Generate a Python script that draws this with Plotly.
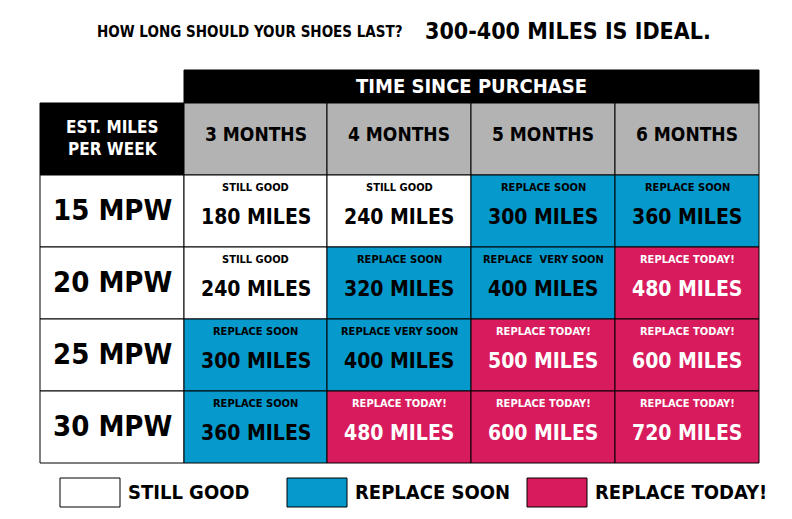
import plotly.graph_objects as go

months = ["3 MONTHS", "4 MONTHS", "5 MONTHS", "6 MONTHS"]
rows = ["15 MPW", "20 MPW", "25 MPW", "30 MPW"]
miles = [[180, 240, 300, 360],
         [240, 320, 400, 480],
         [300, 400, 500, 600],
         [360, 480, 600, 720]]
status = [["STILL GOOD", "STILL GOOD", "REPLACE SOON", "REPLACE SOON"],
          ["STILL GOOD", "REPLACE SOON", "REPLACE  VERY SOON", "REPLACE TODAY!"],
          ["REPLACE SOON", "REPLACE VERY SOON", "REPLACE TODAY!", "REPLACE TODAY!"],
          ["REPLACE SOON", "REPLACE TODAY!", "REPLACE TODAY!", "REPLACE TODAY!"]]
legend_labels = ["STILL GOOD", "REPLACE SOON", "REPLACE TODAY!"]

WHITE, BLUE, PINK, GRAY = "#ffffff", "#0599cc", "#d81b5c", "#b3b3b3"
def colour(s):
    if s.startswith("STILL"):
        return WHITE
    if "TODAY" in s:
        return PINK
    return BLUE

FONT = "DejaVu Sans Condensed, Liberation Sans Narrow, sans-serif"
xe = [40, 184, 327, 471, 615, 759]
ye = [103, 175, 247, 319, 391, 463]

shapes, ann = [], []
def rect(x0, y0, x1, y1, fill, line="black"):
    shapes.append(dict(type="rect", x0=x0, x1=x1, y0=y0, y1=y1, fillcolor=fill,
                       line=dict(color=line, width=1), layer="below"))
def text(x, y, t, size, col="black", xanchor="center"):
    ann.append(dict(x=x, y=y, text="<b>%s</b>" % t, showarrow=False, xanchor=xanchor,
                    font=dict(family=FONT, size=size, color=col)))

# top header
rect(xe[1], 70, xe[5], ye[0], "black")
text((xe[1] + xe[5]) / 2, 86, "TIME SINCE PURCHASE", 20, "white")
rect(xe[0], ye[0], xe[1], ye[1], "black")
text((xe[0] + xe[1]) / 2, 138, "EST. MILES<br>PER WEEK", 17, "white")
for j, m in enumerate(months):
    rect(xe[j + 1], ye[0], xe[j + 2], ye[1], GRAY)
    text((xe[j + 1] + xe[j + 2]) / 2, 134, m, 19)
for i, r in enumerate(rows):
    rect(xe[0], ye[i + 1], xe[1], ye[i + 2], WHITE)
    text((xe[0] + xe[1]) / 2, ye[i + 1] + 35, r, 29)
    for j in range(4):
        c = colour(status[i][j])
        tc = "white" if c == PINK else "black"
        rect(xe[j + 1], ye[i + 1], xe[j + 2], ye[i + 2], c)
        cx = (xe[j + 1] + xe[j + 2]) / 2
        text(cx, ye[i + 1] + 12, status[i][j], 11, tc)
        text(cx, ye[i + 1] + 42, "%d MILES" % miles[i][j], 21, tc)

# title
text(250, 32, "HOW LONG SHOULD YOUR SHOES LAST?", 15)
text(568, 31, "300-400 MILES IS IDEAL.", 23)

# legend
lx = [60, 287, 527]
for x, lab, c in zip(lx, legend_labels, [WHITE, BLUE, PINK]):
    rect(x, 478, x + 60, 507, c)
    text(x + 66, 492, lab, 20, xanchor="left")

fig = go.Figure()
fig.update_layout(width=776, height=503, margin=dict(l=0, r=0, t=0, b=0),
                  plot_bgcolor="white", paper_bgcolor="white",
                  xaxis=dict(range=[8, 784], visible=False, fixedrange=True),
                  yaxis=dict(range=[511, 8], visible=False, fixedrange=True),
                  shapes=shapes, annotations=ann)
fig.write_html("out.html")
